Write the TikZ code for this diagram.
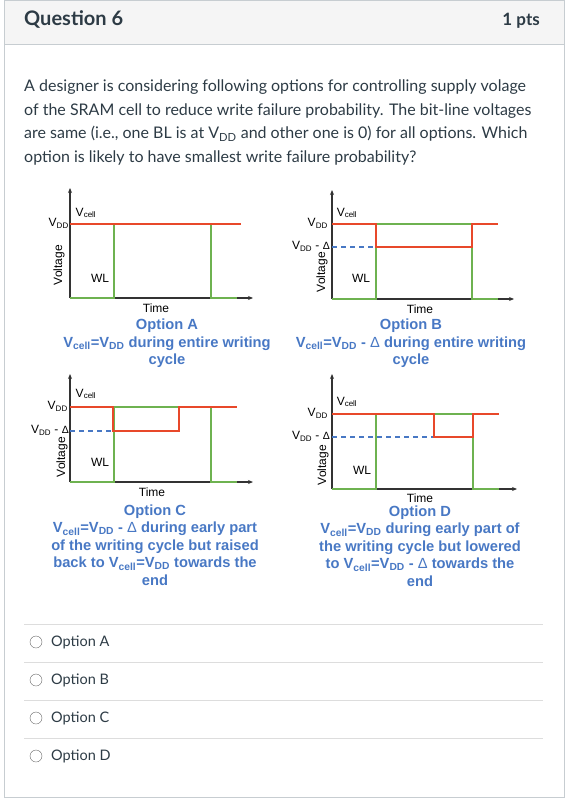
\documentclass[tikz,border=0pt]{standalone}
\usepackage{fontspec}
\setmainfont{Lato}
\newfontfamily\arialfont{Liberation Sans}
\usepackage{xcolor}
\usepackage{tikz}
\usetikzlibrary{arrows.meta}

\definecolor{cellred}{RGB}{232,72,42}
\definecolor{wlgreen}{RGB}{110,178,80}
\definecolor{capblue}{RGB}{72,120,196}
\definecolor{canvastext}{RGB}{45,59,69}
\definecolor{framegray}{RGB}{199,205,209}
\definecolor{headbg}{RGB}{245,245,245}
\definecolor{sepgray}{RGB}{221,221,221}

\begin{document}
\begin{tikzpicture}[x=1pt,y=-1pt,>={Stealth[length=5pt,width=4pt]},
  axis/.style={draw=black!80,line width=1.1pt,->},
  vcell/.style={draw=cellred,line width=2.6pt},
  wl/.style={draw=wlgreen,line width=2.6pt},
  delta/.style={draw=capblue,line width=1.3pt,dash pattern=on 5pt off 4pt},
  lbl/.style={font=\arialfont\fontsize{12}{14}\selectfont,inner sep=0pt},
  caption/.style={font=\arialfont\bfseries\fontsize{14.7}{17.5}\selectfont,text=capblue,align=center,inner sep=0pt},
  body/.style={font=\fontsize{16}{19}\selectfont,text=canvastext,anchor=base west,inner sep=0pt},
  answer/.style={font=\fontsize{14.5}{18}\selectfont,text=canvastext,anchor=west,inner sep=0pt}]
\useasboundingbox (0,0) rectangle (569,799);

% frame and header
\fill[headbg] (4.5,0.5) rectangle (564.5,44.5);
\draw[framegray] (4.5,44.5) -- (564.5,44.5);
\draw[framegray] (4.5,0.5) rectangle (564.5,797.5);
\node[anchor=base west,inner sep=0pt,text=canvastext,font=\bfseries\fontsize{20}{24}\selectfont] (qtitle) at (24,26) {Question 6};
\node[anchor=base east,inner sep=0pt,text=canvastext,font=\bfseries\fontsize{17}{20}\selectfont] (qpts) at (540,26) {1 pts};

% question text
\node[body] (line1) at (24,92) {A designer is considering following options for controlling supply volage};
\node[body] (line2) at (24,115.5) {of the SRAM cell to reduce write failure probability. The bit-line voltages};
\node[body] (line3) at (24,139) {are same (i.e., one BL is at V\textsubscript{DD} and other one is 0) for all options. Which};
\node[body] (line4) at (24,162.5) {option is likely to have smallest write failure probability?};

% option A
\draw[axis] (70,298) -- (70,188);
\draw[axis] (70,298) -- (253,298);
\draw[wl] (70,298) -- (114,298) -- (114,224) -- (211,224) -- (211,298) -- (237,298);
\draw[vcell,line width=1.4pt] (70,224) -- (241,224);
\node[lbl,anchor=east] (vddA) at (69,223) {V\textsubscript{DD}};
\node[lbl] (vcellA) at (86,213) {V\textsubscript{cell}};
\node[lbl,rotate=90] (voltA) at (59,265) {Voltage};
\node[lbl] (wlA) at (100,278) {WL};
\node[lbl] (timeA) at (156,308) {Time};
\node[caption] (capA) at (167,343.5) {Option A\\V\textsubscript{cell}=V\textsubscript{DD} during entire writing\\cycle};

% option B
\draw[axis] (332,299) -- (332,190);
\draw[axis] (332,299) -- (514,299);
\draw[delta] (332,247) -- (376,247);
\draw[wl] (332,299) -- (376,299) -- (376,224) -- (472,224) -- (472,299) -- (498,299);
\draw[vcell] (332,224) -- (376,224) -- (376,247) -- (472,247) -- (472,224) -- (498,224);
\node[lbl,anchor=east] (vddB) at (328,223) {V\textsubscript{DD}};
\node[lbl,anchor=east] (vdddB) at (330,246) {V\textsubscript{DD} - {\fontsize{10.5}{12}\selectfont Δ}};
\node[lbl] (vcellB) at (347,213) {V\textsubscript{cell}};
\node[lbl,rotate=90] (voltB) at (322,272) {Voltage};
\node[lbl] (wlB) at (361,278) {WL};
\node[lbl] (timeB) at (420,309) {Time};
\node[caption] (capB) at (411,343.5) {Option B\\V\textsubscript{cell}=V\textsubscript{DD} - {\mdseries Δ} during entire writing\\cycle};

% option C
\draw[axis] (70,482) -- (70,374);
\draw[axis] (70,482) -- (253,482);
\draw[delta] (70,431) -- (113,431);
\draw[wl] (70,482) -- (114,482) -- (114,407) -- (211,407) -- (211,482) -- (237,482);
\draw[vcell] (70,407) -- (113,407) -- (113,431) -- (179,431) -- (179,407) -- (237,407);
\node[lbl,anchor=east] (vddC) at (68,406) {V\textsubscript{DD}};
\node[lbl,anchor=east] (vdddC) at (69,430) {V\textsubscript{DD} - {\fontsize{10.5}{12}\selectfont Δ}};
\node[lbl] (vcellC) at (86,394) {V\textsubscript{cell}};
\node[lbl,rotate=90] (voltC) at (62,457) {Voltage};
\node[lbl] (wlC) at (100,462) {WL};
\node[lbl] (timeC) at (152,492) {Time};
\node[caption] (capC) at (155,545) {Option C\\V\textsubscript{cell}=V\textsubscript{DD} - {\mdseries Δ} during early part\\of the writing cycle but raised\\back to V\textsubscript{cell}=V\textsubscript{DD} towards the\\end};

% option D
\draw[axis] (332,489) -- (332,374);
\draw[axis] (332,489) -- (517,489);
\draw[delta] (332,437) -- (434,437);
\draw[wl] (332,489) -- (376,489) -- (376,414) -- (473,414) -- (473,489) -- (499,489);
\draw[vcell] (332,414) -- (434,414) -- (434,437) -- (473,437) -- (473,414) -- (499,414);
\node[lbl,anchor=east] (vddD) at (328,413) {V\textsubscript{DD}};
\node[lbl,anchor=east] (vdddD) at (330,436) {V\textsubscript{DD} - {\fontsize{10.5}{12}\selectfont Δ}};
\node[lbl] (vcellD) at (347,402) {V\textsubscript{cell}};
\node[lbl,rotate=90] (voltD) at (323,465) {Voltage};
\node[lbl] (wlD) at (362,470) {WL};
\node[lbl] (timeD) at (420,498) {Time};
\node[caption] (capD) at (420,546) {Option D\\V\textsubscript{cell}=V\textsubscript{DD} during early part of\\the writing cycle but lowered\\to V\textsubscript{cell}=V\textsubscript{DD} - {\mdseries Δ} towards the\\end};

% answers
\draw[sepgray] (24,624) -- (543,624);
\draw[sepgray] (24,662) -- (543,662);
\draw[sepgray] (24,700) -- (543,700);
\draw[sepgray] (24,738) -- (543,738);
\draw[black!60] (36,642) circle[radius=6pt];
\draw[black!60] (36,680) circle[radius=6pt];
\draw[black!60] (36,718) circle[radius=6pt];
\draw[black!60] (36,756) circle[radius=6pt];
\node[answer] (ansA) at (51,642) {Option A};
\node[answer] (ansB) at (51,680) {Option B};
\node[answer] (ansC) at (51,718) {Option C};
\node[answer] (ansD) at (51,756) {Option D};
\end{tikzpicture}
\end{document}
